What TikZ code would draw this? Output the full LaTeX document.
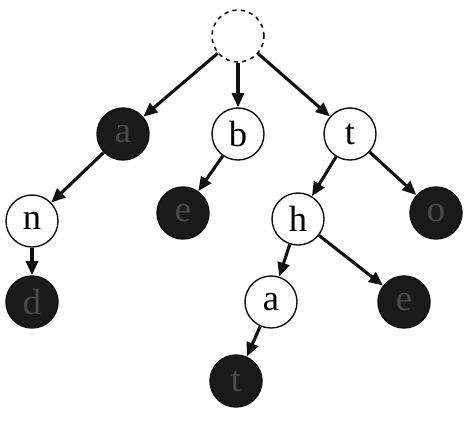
\documentclass[tikz,border=0pt]{standalone}
\usepackage{fontspec}
\setmainfont{Liberation Serif}
\usetikzlibrary{arrows.meta}
\definecolor{trieInk}{HTML}{111111}
\definecolor{trieDark}{HTML}{1A1A1A}
\definecolor{trieFaint}{HTML}{4A4A4A}
\tikzset{
  >={Triangle[length=10pt,width=8.5pt]},
  letter/.style={circle,draw=trieInk,line width=1pt,fill=white,minimum size=1.3cm,inner sep=0pt,font=\fontsize{26}{30}\selectfont},
  wordend/.style={letter,fill=trieDark,text=trieFaint},
  rootnode/.style={letter,dashed,line width=1.1pt},
  link/.style={->,draw=trieInk,line width=2.2pt},
}
\begin{document}
\begin{tikzpicture}[x=0.025cm,y=-0.025cm]
  \useasboundingbox (0,0) rectangle (474,424);

  % level 0
  \node[rootnode] (root) at (238,36) {};

  % level 1
  \node[wordend] (na) at (123,134) {a};
  \node[letter]  (nb) at (238,134) {b};
  \node[letter]  (nt) at (350,134) {t};

  % level 2
  \node[letter]  (nan) at (32,221) {n};
  \node[wordend] (nbe) at (183,213) {e};
  \node[letter]  (nth) at (298,219) {h};
  \node[wordend] (nto) at (436,213) {o};

  % level 3
  \node[wordend] (nand) at (32,302) {d};
  \node[letter]  (ntha) at (271,302) {a};
  \node[wordend] (nthe) at (404,302) {e};

  % level 4
  \node[wordend] (nthat) at (236,381) {t};

  \draw[link] (root) -- (na);
  \draw[link] (root) -- (nb);
  \draw[link] (root) -- (nt);
  \draw[link] (na) -- (nan);
  \draw[link] (nan) -- (nand);
  \draw[link] (nb) -- (nbe);
  \draw[link] (nt) -- (nth);
  \draw[link] (nt) -- (nto);
  \draw[link] (nth) -- (ntha);
  \draw[link] (nth) -- (nthe);
  \draw[link] (ntha) -- (nthat);
\end{tikzpicture}
\end{document}
